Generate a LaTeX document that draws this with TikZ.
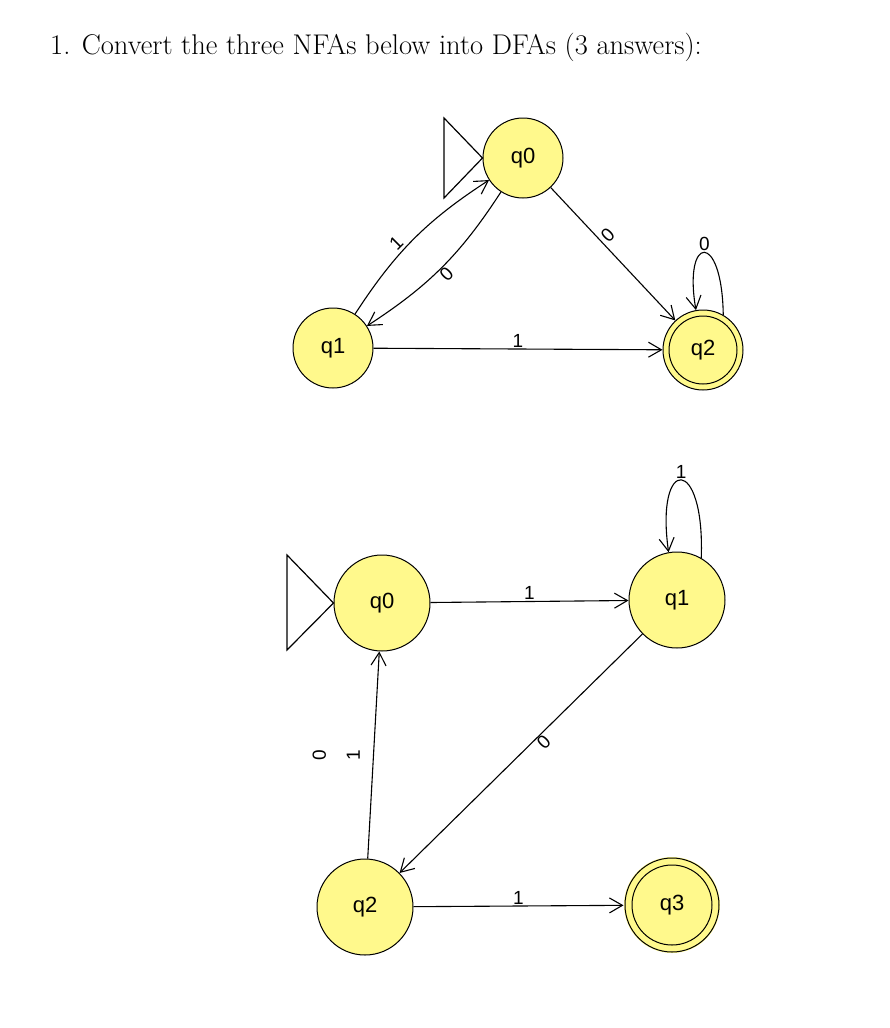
\documentclass[tikz,border=0pt]{standalone}
\usepackage{fontspec}
\newfontfamily\lsans{Liberation Sans}
\usetikzlibrary{arrows.meta}
\begin{document}
\begin{tikzpicture}[x=1pt,y=-1pt,
  st/.style={circle,draw,line width=1pt,fill=yellow!45,minimum size=80pt,inner sep=0pt,font=\lsans\fontsize{22}{26}\selectfont},
  stb/.style={st,minimum size=96pt},
  tr/.style={draw,-{Straight Barb[length=13pt,width=15pt]},line width=1.1pt},
  lb/.style={font=\lsans\fontsize{19}{22}\selectfont,inner sep=1pt},
  ini/.style={draw,line width=1.2pt}]
\useasboundingbox (0,0) rectangle (890,1028);
\node[anchor=west,inner sep=0pt,font=\fontsize{28.5}{34}\selectfont] (title) at (50,47) {1. Convert the three NFAs below into DFAs (3 answers):};
% graph 1
\node[st] (a0) at (523,158) {q0};
\node[st] (a1) at (333,348) {q1};
\node[st,draw=none] (a2) at (703,350) {q2};
\draw[line width=1pt] (a2.center) circle (40pt) (a2.center) circle (34pt);
\coordinate (a0in) at (a0.west);
\draw[ini] (a0in) -- (444,118) -- (444,198) -- cycle;
\draw[tr] (a1) to[bend left=12] node[lb,pos=0.45,above left=1pt,rotate=45]{1} (a0);
\draw[tr] (a0) to[bend left=12] node[lb,pos=0.55,below right=0pt,rotate=45]{0} (a1);
\draw[tr] (a0) -- node[lb,pos=0.45,above right=2pt,rotate=45]{0} (a2);
\draw[tr] (a2.60) .. controls (722,230) and (683,235) .. node[lb,above,pos=0.5]{0} (a2.100);
\draw[tr] (a1) -- node[lb,above,pos=0.5]{1} (a2);
% graph 2
\node[stb] (b0) at (382,603) {q0};
\node[stb] (b1) at (677,600) {q1};
\node[stb] (b2) at (365,907) {q2};
\node[stb,draw=none] (b3) at (672,905) {q3};
\draw[line width=1pt] (b3.center) circle (47pt) (b3.center) circle (40pt);
\coordinate (b0in) at (b0.west);
\draw[ini] (b0in) -- (287,555) -- (287,650) -- cycle;
\draw[tr] (b0) -- node[lb,above]{1} (b1);
\draw[tr] (b1.60) .. controls (705,455) and (655,455) .. node[lb,above,pos=0.5]{1} (b1.100);
\draw[tr] (b1) -- node[lb,pos=0.45,below right=0pt,rotate=45]{0} (b2);
\draw[tr] (b2) -- node[lb,pos=0.5,left=12pt,rotate=90,anchor=south]{1} node[lb,pos=0.5,left=12pt,rotate=90,anchor=south,yshift=34pt]{0} (b0);
\draw[tr] (b2) -- node[lb,above]{1} (b3);
\end{tikzpicture}
\end{document}
